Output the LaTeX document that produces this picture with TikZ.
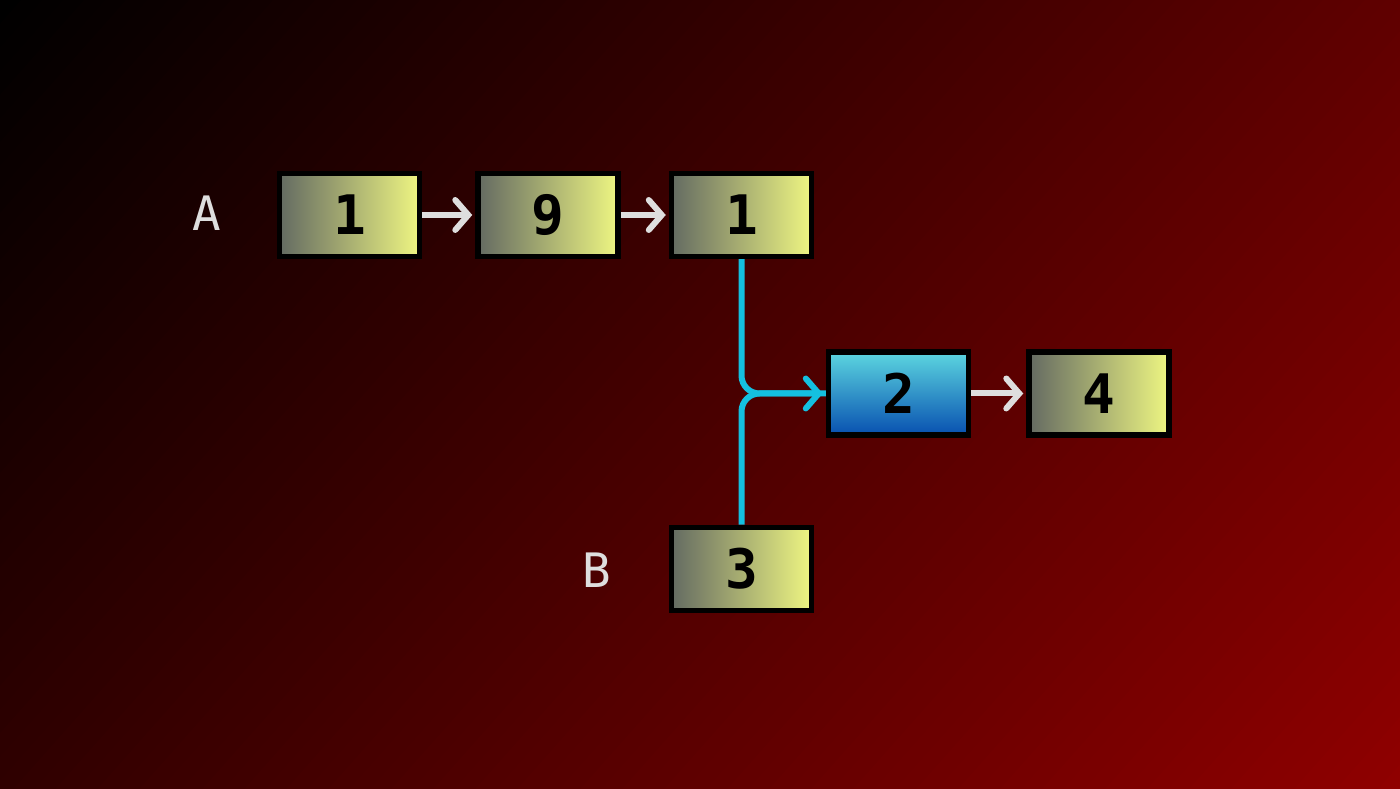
\documentclass[tikz,border=0pt]{standalone}
\usepackage{fontspec}
\setmonofont{DejaVu Sans Mono}
\usepackage{tikz}
\usetikzlibrary{positioning,arrows.meta}
\definecolor{bgred}{RGB}{144,0,0}
\definecolor{boxgray}{RGB}{100,106,98}
\definecolor{boxyellow}{RGB}{238,246,130}
\definecolor{cyantop}{RGB}{92,214,224}
\definecolor{bluebot}{RGB}{8,80,176}
\definecolor{flowcyan}{RGB}{20,192,224}
\definecolor{arrowgray}{RGB}{222,222,222}
\tikzset{
  cell/.style   = {draw=black, line width=0.055cm, minimum width=1.40cm, minimum height=0.83cm,
                   left color=boxgray, right color=boxyellow, text=black,
                   font=\ttfamily\bfseries\fontsize{15.5}{18}\selectfont},
  hot/.style    = {cell, top color=cyantop, bottom color=bluebot},
  listname/.style = {text=arrowgray, font=\ttfamily\fontsize{13.5}{16}\selectfont},
  tip/.style    = {-{Straight Barb[length=0.13cm, width=0.30cm, line cap=round]}, shorten >=0.03cm},
  arrow/.style  = {tip, line width=0.06cm, draw=arrowgray},
  flow/.style   = {line width=0.06cm, draw=flowcyan, rounded corners=0.18cm},
}
\begin{document}
\begin{tikzpicture}
  \useasboundingbox (0,0) rectangle (14,7.88);
  % background, black top left to red bottom right
  \begin{scope}
    \clip (0,0) rectangle (14,7.88);
    \fill[bgred] (0,0) rectangle (14,7.88);
    \begin{scope}[shift={(0,7.88)}, rotate=-41.6]
      \foreach \i in {0,...,99}
        \fill[bgred!\i!black] (\i*0.157,-12) rectangle ({(\i+1)*0.157+0.01},12);
    \end{scope}
  \end{scope}
  % list A
  \node[listname] (la) at (2.07,5.75) {A};
  \node[cell] (a1) at (3.495,5.73) {1};
  \node[cell, right=0.53cm of a1] (a9) {9};
  \node[cell, right=0.48cm of a9] (a1b) {1};
  % merged part
  \node[hot] (n2) at (8.985,3.945) {2};
  \node[cell, right=0.55cm of n2] (n4) {4};
  % list B
  \node[listname] (lb) at (5.97,2.18) {B};
  \node[cell] (b3) at (7.415,2.19) {3};
  \draw[arrow] (a1) -- (a9); \draw[arrow] (a9) -- (a1b); \draw[arrow] (n2) -- (n4);
  \draw[flow] (b3.north) |- (n2.west);
  \draw[flow, tip] (a1b.south) |- (n2.west);
\end{tikzpicture}
\end{document}
